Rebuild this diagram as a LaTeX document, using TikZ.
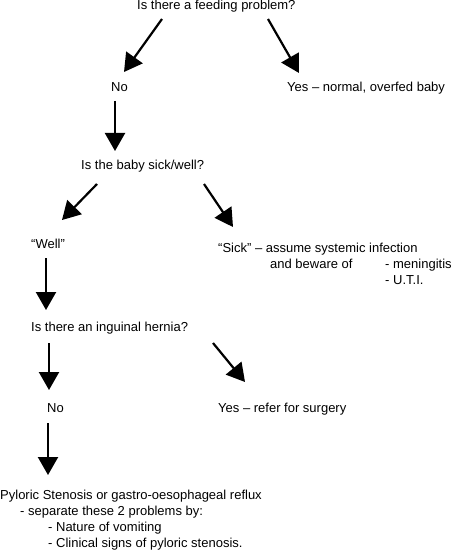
\documentclass[tikz,border=0pt]{standalone}
\usepackage{fontspec}
\setmainfont{Liberation Sans}
\usetikzlibrary{arrows.meta}

\tikzset{
  txt/.style={anchor=base west,inner sep=0pt,font=\fontsize{13bp}{16bp}\selectfont},
  arr/.style={line width=2.2bp,-{Triangle[length=18bp,width=20bp]}}
}

\begin{document}
\begin{tikzpicture}[x=1bp,y=-1bp]
\useasboundingbox (0,0) rectangle (452,550);
% questions and answers
\node[txt] (feed) at (137,9.5) {Is there a feeding problem?};
\node[txt] (no1) at (111,92) {No};
\node[txt] (yes1) at (287,92) {Yes -- normal, overfed baby};
\node[txt] (ask) at (81,170) {Is the baby sick/well?};
\node[txt] (well) at (31,248) {“Well”};
\node[txt] (sick) at (218,252) {“Sick” -- assume systemic infection};
\node[txt] (beware) at (270,268) {and beware of};
\node[txt] (mening) at (385,268) {- meningitis};
\node[txt] (uti) at (385,284) {- U.T.I.};
\node[txt] (hernia) at (31,331) {Is there an inguinal hernia?};
\node[txt] (no2) at (47,412) {No};
\node[txt] (yes2) at (218,412) {Yes -- refer for surgery};
\node[txt] (pyl) at (0,499) {Pyloric Stenosis or gastro-oesophageal reflux};
\node[txt] (sep) at (20,515) {- separate these 2 problems by:};
\node[txt] (vomit) at (48,531) {- Nature of vomiting};
\node[txt] (signs) at (48,547) {- Clinical signs of pyloric stenosis.};
% arrows
\foreach \a/\ax/\ay/\b/\bx/\by in {
    feed/25/9.5/no1/13/-20, feed/131/9.5/yes1/12/-19,
    no1/4/9/ask/34/-19,
    ask/16/14/well/31/-28, ask/123/14/sick/15/-25,
    well/15/10/hernia/15/-21,
    hernia/18/12/no2/2/-22, hernia/182/12/yes2/27/-30,
    no2/1/11/pyl/48/-24}
  \draw[arr] ([shift={(\ax,\ay)}]\a.base west) -- ([shift={(\bx,\by)}]\b.base west);
\end{tikzpicture}
\end{document}
